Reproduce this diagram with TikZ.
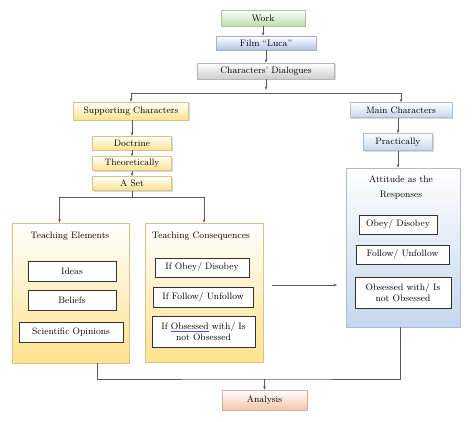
\documentclass[tikz,border=0pt]{standalone}
\usetikzlibrary{arrows.meta,shadows}

\definecolor{workgreen}{RGB}{190,222,170}
\definecolor{filmblue}{RGB}{176,196,230}
\definecolor{dialgray}{RGB}{205,205,205}
\definecolor{supyellow}{RGB}{255,226,140}
\definecolor{attblue}{RGB}{196,214,238}
\definecolor{anapeach}{RGB}{246,196,168}

\tikzset{
  every node/.style={font=\fontsize{9.3}{11}\selectfont, inner sep=0pt},
  flowbox/.style={rectangle, draw=#1!70!gray, line width=0.5pt, top color=white, bottom color=#1,
    drop shadow={opacity=0.3, shadow xshift=1.2pt, shadow yshift=-1.2pt}},
  itembox/.style={rectangle, draw=black!80, line width=0.9pt, fill=white, align=center},
  arr/.style={draw=black!65, line width=0.6pt, -{Stealth[length=3.5pt,width=2.6pt]}},
  link/.style={draw=black!65, line width=0.6pt}
}

\begin{document}
\begin{tikzpicture}[x=1pt,y=1pt]
\useasboundingbox (0,0) rectangle (474,-421);

% top column
\node [flowbox=workgreen, minimum width=84pt, minimum height=16pt] (work) at (263,-18) {Work};
\node [flowbox=filmblue, minimum width=100pt, minimum height=14pt] (film) at (266,-43) {Film ``Luca''};
\node [flowbox=dialgray, minimum width=137pt, minimum height=16pt] (dial) at (266,-71) {Characters' Dialogues};

% supporting characters
\node [flowbox=supyellow, minimum width=115pt, minimum height=18pt] (supp) at (131,-111) {Supporting Characters};
\node [flowbox=supyellow, minimum width=79pt, minimum height=14pt] (doct) at (132,-143) {Doctrine};
\node [flowbox=supyellow, minimum width=79pt, minimum height=14pt] (theo) at (132,-163.5) {Theoretically};
\node [flowbox=supyellow, minimum width=79pt, minimum height=14pt] (aset) at (132,-183.5) {A Set};

% main characters
\node [flowbox=attblue, minimum width=102pt, minimum height=15pt] (main) at (401,-110) {Main Characters};
\node [flowbox=attblue, minimum width=69pt, minimum height=17pt] (prac) at (398,-142) {Practically};

% big boxes
\node [flowbox=supyellow, minimum width=117pt, minimum height=140pt] (te) at (70.5,-293) {};
\node [flowbox=supyellow, minimum width=118pt, minimum height=139pt] (tc) at (204,-292.5) {};
\node [flowbox=attblue, minimum width=114pt, minimum height=159pt] (att) at (403,-247.5) {};

\node (tetitle) at (70,-236) {Teaching Elements};
\node (tctitle) at (201,-236) {Teaching Consequences};
\node [align=center, font=\fontsize{9.3}{15}\selectfont] (atttitle) at (401,-187.5) {Attitude as the\\Responses};

\node [itembox, minimum width=88pt, minimum height=20pt] (ideas) at (72,-271) {Ideas};
\node [itembox, minimum width=88pt, minimum height=20pt] (beliefs) at (72,-300) {Beliefs};
\node [itembox, minimum width=104pt, minimum height=20pt] (sci) at (71,-332) {Scientific Opinions};

\node [itembox, minimum width=94pt, minimum height=19pt] (tcobey) at (202,-267.5) {If Obey/ Disobey};
\node [itembox, minimum width=100pt, minimum height=20pt] (tcfollow) at (203,-297) {If Follow/ Unfollow};
\node [itembox, minimum width=103pt, minimum height=31pt, font=\fontsize{9.3}{11.5}\selectfont] (tcobs) at (203.5,-331.5)
  {If \textcolor{blue!70}{\underline{\textcolor{black}{Obsessed}}} with/ Is\\not Obsessed};

\node [itembox, minimum width=78pt, minimum height=19pt] (aobey) at (398,-224.5) {Obey/ Disobey};
\node [itembox, minimum width=93pt, minimum height=19pt] (afollow) at (402.5,-254.5) {Follow/ Unfollow};
\node [itembox, minimum width=96pt, minimum height=31pt, font=\fontsize{9.3}{11.5}\selectfont] (aobs) at (403,-292.5)
  {Obsessed with/ Is\\not Obsessed};

\node [flowbox=anapeach, minimum width=85pt, minimum height=20pt] (ana) at (264.5,-400) {Analysis};

% connectors
\coordinate (fork) at (266,-93);
\coordinate (setfork) at (132,-197);
\coordinate (gapL) at (272,-285);
\coordinate (gapR) at (337,-285);
\coordinate (join) at (264.5,-379);

\draw [arr] (work.south) -- (work.south |- film.north);
\draw [arr] (film.south) -- (film.south |- dial.north);
\draw [arr] (dial.south) -- ([yshift=3pt]fork);
\draw [arr] (fork) -| (supp.north);
\draw [arr] (fork) -| (main.north);
\draw [arr] (supp.south -| doct) -- (doct.north);
\draw [arr] (doct) -- (theo);
\draw [arr] (theo) -- (aset);
\draw [arr] (main.south -| prac) -- (prac.north);
\draw [arr] (prac) -- (att.north -| prac.south);
\draw [link] (aset) -- (setfork);
\draw [arr] (setfork) -| ([xshift=-11pt]te.north);
\draw [arr] (setfork) -| (tc.north);
\draw [arr] (gapL) -- (gapR);
\draw [link] ([xshift=26.5pt]te.south) |- (join) -| ([xshift=-3pt]att.south);
\draw [arr] (join) -- (ana);
\end{tikzpicture}
\end{document}
